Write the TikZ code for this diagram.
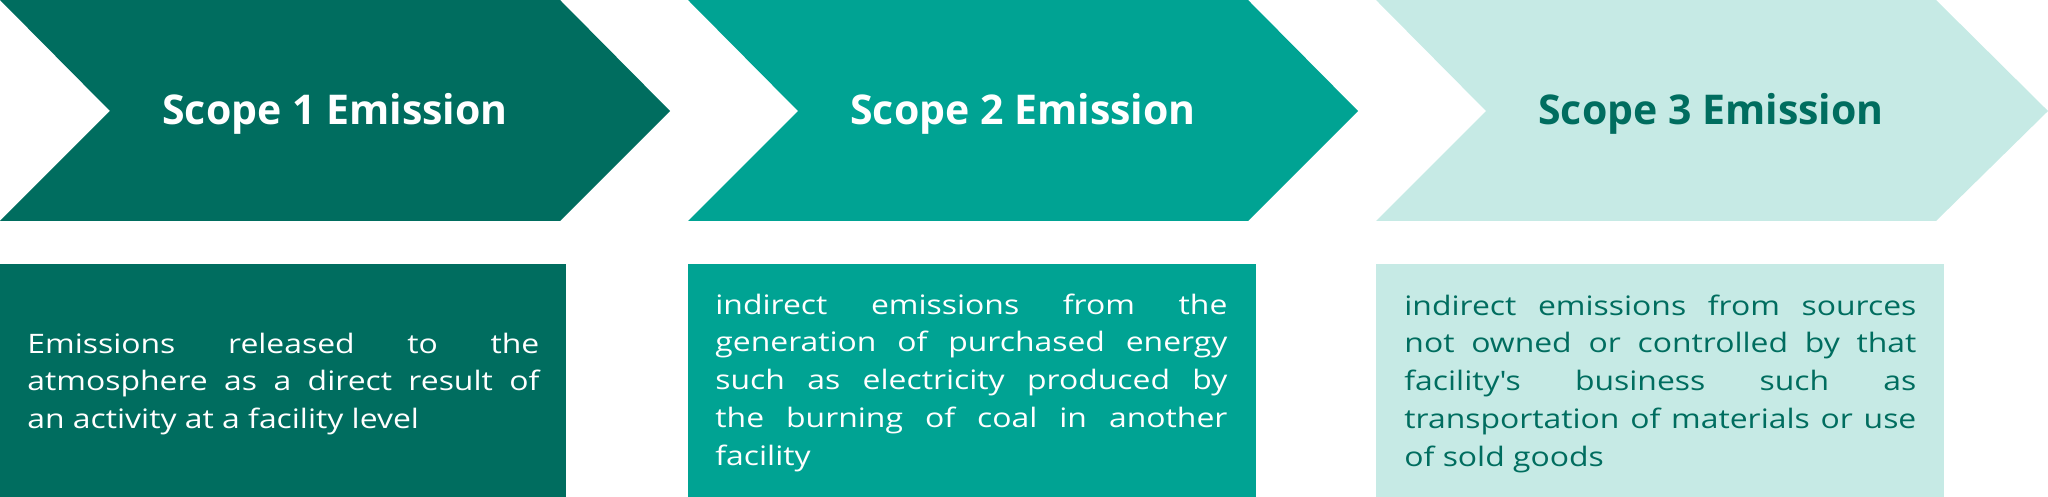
\documentclass[tikz,border=0pt]{standalone}
\usepackage{fontspec}
\setmainfont{Open Sans}
\newfontfamily\bodyfont{Open Sans}[FakeStretch=1.19]
\usepackage{tikz}
\usetikzlibrary{positioning}
\definecolor{scopedark}{RGB}{0,109,95}
\definecolor{scopemid}{RGB}{0,163,147}
\definecolor{scopelight}{RGB}{198,234,229}

\begin{document}
\begin{tikzpicture}[x=0.5pt,y=-0.5pt,
    title/.style={font=\fontsize{20.5}{24}\selectfont\bfseries,anchor=base,inner sep=0pt},
    body/.style={text width=256pt,align=justify,anchor=base west,inner sep=0pt,
      font=\bodyfont\fontsize{13.4}{18.9}\selectfont}]
        \useasboundingbox (0,0) rectangle (2048,497);
        % chevrons
        \fill[scopedark] (0,0)--(560,0)--(670,111)--(560,221)--(0,221)--(110,111)--cycle;
        \fill[scopemid] (688,0)--(1248,0)--(1358,111)--(1248,221)--(688,221)--(798,111)--cycle;
        \fill[scopelight] (1376,0)--(1936,0)--(2048,111)--(1936,221)--(1376,221)--(1486,111)--cycle;
        \node[title,white] (scope1) at (335,125) {Scope 1 Emission};
        \node[title,white] (scope2) at (1023,125) {Scope 2 Emission};
        \node[title,scopedark] (scope3) at (1711,125) {Scope 3 Emission};
        % boxes
        \fill[scopedark] (0,264) rectangle (566,497);
        \fill[scopemid] (688,264) rectangle (1256,497);
        \fill[scopelight] (1376,264) rectangle (1944,497);
        \node[body,white] (desc1) at (27,353) {Emissions released to the\linebreak
          atmosphere as a direct result of\linebreak an activity at a facility level};
        \node[body,white] (desc2) at (715,314) {indirect emissions from the\linebreak
          generation of purchased energy\linebreak such as electricity produced by\linebreak
          the burning of coal in another\linebreak facility};
        \node[body,scopedark] (desc3) at (1404,315) {indirect emissions from sources\linebreak
          not owned or controlled by that\linebreak facility\textquotesingle s business such as\linebreak
          transportation of materials or use\linebreak of sold goods};
    \end{tikzpicture}
\end{document}
